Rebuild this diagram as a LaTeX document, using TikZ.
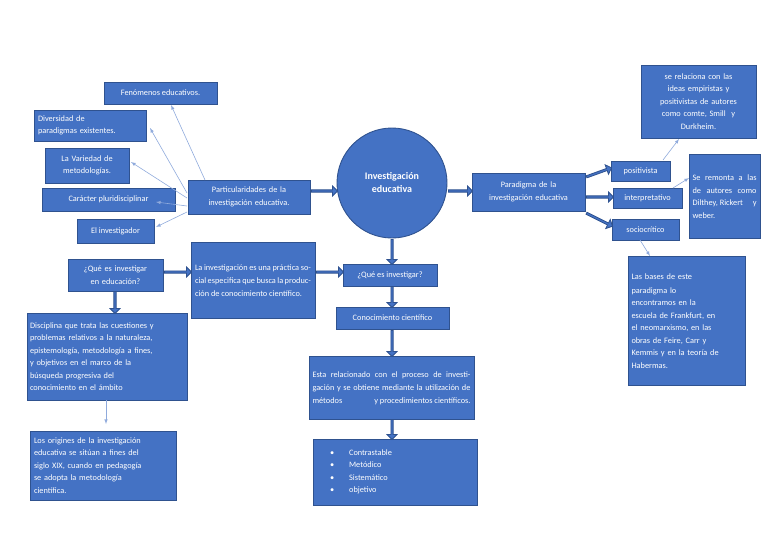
\documentclass[tikz,border=0pt]{standalone}
\usepackage{fontspec}
\setmainfont{Carlito}
\usetikzlibrary{shapes.arrows,calc}
\definecolor{bx}{HTML}{4472C4}
\definecolor{bd}{HTML}{2F528F}
\definecolor{thin}{HTML}{8FAADC}
\begin{document}
\begin{tikzpicture}[x=1pt,y=-1pt,
  box/.style={draw=bd,line width=0.9pt,fill=bx,text=white,font=\fontsize{8.3}{12.5}\selectfont,inner sep=2pt},
  thinarrow/.style={draw=thin,line width=0.6pt,-latex},
  barrow/.style={single arrow,draw=bd,fill=bx,line width=0.8pt,minimum width=10pt,single arrow head extend=2pt,single arrow head indent=0pt,inner sep=0pt,shape border uses incircle}]
\useasboundingbox (0,0) rectangle (768,543);
\newcommand{\bx}[5]{\node[box,minimum width={#3-#1},minimum height={#4-#2}] at ({(#1+#3)/2},{(#2+#4)/2}) {#5};}
\newcommand{\blockarr}[2]{\path let \p1=($(#2)-(#1)$), \n1={veclen(\x1,\y1)} in (#1) -- (#2) node[midway,sloped,barrow,minimum height=\n1]{};}
% boxes
\node[box,minimum width=113pt,minimum height=22pt] (fen) at (160.5,93) {Fenómenos educativos.};
\node[box,minimum width=112pt,minimum height=31pt,text width=104pt,align=left] (div) at (90,125.5) {Diversidad de\\paradigmas existentes.};
\node[box,minimum width=84pt,minimum height=35pt,text width=78pt,align=center] (var) at (87,165.5) {La Variedad de\\metodologías.};
\node[box,minimum width=133pt,minimum height=23pt] (car) at (108.5,199.5) {Carácter pluridisciplinar};
\node[box,minimum width=77pt,minimum height=24pt] (inv) at (115.5,231) {El investigador};
\node[box,minimum width=122pt,minimum height=34pt,text width=116pt,align=center] (par) at (249,197) {Particularidades de la\\investigación educativa.};
\node[circle,draw=bd,line width=0.9pt,fill=bx,text=white,minimum size=110pt,inner sep=0pt,align=center,font=\fontsize{10}{13}\selectfont\bfseries] (cir) at (392,183) {Investigación\\educativa};
\node[box,minimum width=113pt,minimum height=38pt,text width=108pt,align=center] (pdg) at (528.5,192) {Paradigma de la\\investigación educativa};
\node[box,minimum width=59pt,minimum height=20pt] (pos) at (640.5,171) {positivista};
\node[box,minimum width=69pt,minimum height=20pt] (int) at (647.5,198) {interpretativo};
\node[box,minimum width=67pt,minimum height=21pt] (soc) at (645.5,229.5) {sociocrítico};
\node[box,minimum width=115pt,minimum height=73pt,text width=110pt,align=center] (rel) at (698.5,101.5) {se relaciona con las\\ideas empiristas y\\positivistas de autores\\como comte, Smill\ \ y\\Durkheim.};
\node[box,minimum width=71pt,minimum height=84pt,text width=64pt,align=justify,anchor=north] (rem) at (724.5,154) {Se remonta a las de autores como Dilthey, Rickert\hfill y\\weber.};
\node[box,minimum width=117pt,minimum height=129pt,text width=110pt,align=left,anchor=north] (bas) at (686.5,256) {\vspace{1pt}Las bases de este\\paradigma lo\\encontramos en la\\escuela de Frankfurt, en\\el neomarxismo, en las\\obras de Feire, Carr y\\Kemmis y en la teoría de\\Habermas.};
\node[box,minimum width=94pt,minimum height=22pt] (que) at (390,275) {¿Qué es investigar?};
\node[box,minimum width=124pt,minimum height=76pt,text width=116pt,align=justify,anchor=north] (lai) at (253,242) {\vspace{1pt}La investigación es una práctica social especifica que busca la producción de conocimiento científico.};
\node[box,minimum width=95pt,minimum height=32pt,text width=88pt,align=center] (qed) at (115.5,275) {¿Qué es investigar\\en educación?};
\node[box,minimum width=160pt,minimum height=87pt,text width=154pt,align=left] (dis) at (107,356.5) {Disciplina que trata las cuestiones y\\problemas relativos a la naturaleza,\\epistemología, metodología a fines,\\y objetivos en el marco de la\\búsqueda progresiva del\\conocimiento en el ámbito};
\node[box,minimum width=146pt,minimum height=69pt,text width=138pt,align=left] (ori) at (103,465.5) {Los origines de la investigación\\educativa se sitúan a fines del\\siglo XIX, cuando en pedagogía\\se adopta la metodología\\científica.};
\node[box,minimum width=113pt,minimum height=22pt] (con) at (392.5,318) {Conocimiento científico};
\node[box,minimum width=165pt,minimum height=63pt,text width=158pt,align=justify,anchor=north] (est) at (391.5,356) {\vspace{1pt}Esta relacionado con el proceso de investigación y se obtiene mediante la utilización de\hfill métodos\hfill y procedimientos científicos.};
\node[box,minimum width=164pt,minimum height=66pt,text width=130pt,align=left] (bul) at (395,472) {\textbullet\hspace{15pt}Contrastable\\\textbullet\hspace{15pt}Metódico\\\textbullet\hspace{15pt}Sistemático\\\textbullet\hspace{15pt}objetivo};
% block arrows
\coordinate (a1) at (337,191); \coordinate (b1) at (311,191);
\coordinate (a2) at (448,191); \coordinate (b2) at (472,191);
\coordinate (a3) at (392,239); \coordinate (b3) at (392,264);
\coordinate (a4) at (343,272); \coordinate (b4) at (316,272);
\coordinate (a5) at (191,272); \coordinate (b5) at (164,272);
\coordinate (a6) at (115,291); \coordinate (b6) at (115,313);
\coordinate (a7) at (392,286); \coordinate (b7) at (392,307);
\coordinate (a8) at (392,330); \coordinate (b8) at (392,356);
\coordinate (a9) at (392,419); \coordinate (b9) at (392,439);
\coordinate (a10) at (586,177); \coordinate (b10) at (611,168);
\coordinate (a11) at (586,197); \coordinate (b11) at (613,197);
\coordinate (a12) at (586,213); \coordinate (b12) at (612,226);
\foreach \i in {1,...,12} {\blockarr{a\i}{b\i}}
% thin arrows
\draw[thinarrow] (205,180) -- (171,105);
\draw[thinarrow] (187,193) -- (150,128);
\draw[thinarrow] (187,198) -- (131,162);
\draw[thinarrow] (187,206) -- (156,202);
\draw[thinarrow] (187,212) -- (156,227);
\draw[thinarrow] (663,160) -- (679,139);
\draw[thinarrow] (673,188) -- (689,178);
\draw[thinarrow] (640,240) -- (650,256);
\draw[thinarrow] (106,400) -- (106,424);
\end{tikzpicture}
\end{document}
